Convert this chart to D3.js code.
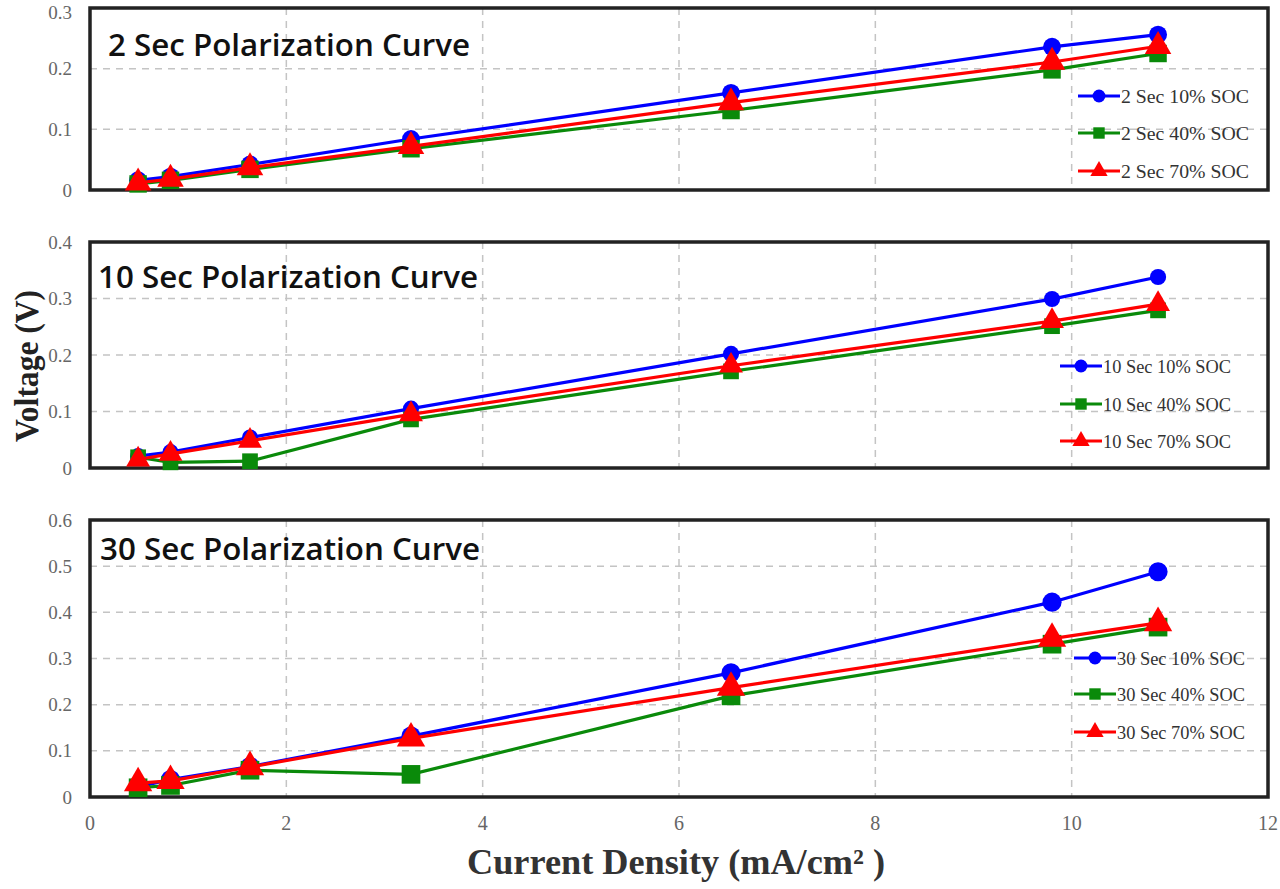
<!DOCTYPE html>
<html>
<head>
<meta charset="utf-8">
<script src="https://cdn.jsdelivr.net/npm/d3@7"></script>
<style>
  body { margin: 0; background: #fff; }
  svg { display: block; }
</style>
</head>
<body>
<svg id="chart" width="1280" height="889"></svg>
<script>
// current density at each measurement (mA/cm2)
const currentDensity = [0.49, 0.82, 1.63, 3.27, 6.53, 9.80, 10.88];
const xTicks = [0, 2, 4, 6, 8, 10, 12];

const pulseTimes = ["2 Sec", "10 Sec", "30 Sec"];
const socLevels = ["10% SOC", "40% SOC", "70% SOC"];
const yMaxes = [0.3, 0.4, 0.6];

// voltage (V)
const v2s10 = [0.016, 0.022, 0.042, 0.084, 0.160, 0.236, 0.256];
const v2s40 = [0.010, 0.016, 0.034, 0.068, 0.131, 0.198, 0.225];
const v2s70 = [0.012, 0.018, 0.037, 0.072, 0.144, 0.211, 0.237];

const v10s10 = [0.021, 0.028, 0.054, 0.105, 0.202, 0.299, 0.338];
const v10s40 = [0.019, 0.010, 0.012, 0.086, 0.171, 0.251, 0.279];
const v10s70 = [0.015, 0.025, 0.048, 0.095, 0.181, 0.260, 0.290];

const v30s10 = [0.022, 0.038, 0.066, 0.132, 0.269, 0.422, 0.488];
const v30s40 = [0.020, 0.025, 0.058, 0.049, 0.219, 0.331, 0.368];
const v30s70 = [0.030, 0.035, 0.065, 0.127, 0.237, 0.343, 0.377];

const voltages = [
    [v2s10, v2s40, v2s70],
    [v10s10, v10s40, v10s70],
    [v30s10, v30s40, v30s70]
];

const colors = ["#0000ff", "#0a8a0a", "#ff0000"];
const symbols = [d3.symbolCircle, d3.symbolSquare, d3.symbolTriangle];

const svg = d3.select("#chart");
const left = 90, right = 1268;

// panel placement (top, bottom), legend placement
const panelBox = [[8, 190], [242, 468], [520, 797]];
const legendX = [1078, 1060, 1074];
const legendY = [[96, 133, 171], [366, 404, 441], [658, 694, 732]];
const titleX = [108, 98, 100];
const titleY = [56, 288, 560];
const titleW = [362, 380, 380];
const markerScale = [1.05, 0.85, 1.2];

const x = d3.scaleLinear().domain([0, 12]).range([left, right]);

panelBox.forEach(([top, bottom], p) => {
    const y = d3.scaleLinear().domain([0, yMaxes[p]]).range([bottom, top]);
    const g = svg.append("g");
    const yTicks = d3.range(0, yMaxes[p] + 0.001, 0.1);

    // gridlines
    g.selectAll(".vgrid")
        .data(xTicks.slice(1, -1))
        .enter()
        .append("line")
        .attr("x1", d => x(d)).attr("x2", d => x(d))
        .attr("y1", top).attr("y2", bottom)
        .style("stroke", "#c4c4c4")
        .style("stroke-width", 1.5)
        .style("stroke-dasharray", "7,6");
    g.selectAll(".hgrid")
        .data(yTicks.slice(1, -1))
        .enter()
        .append("line")
        .attr("x1", left).attr("x2", right)
        .attr("y1", d => y(d)).attr("y2", d => y(d))
        .style("stroke", "#c4c4c4")
        .style("stroke-width", 1.5)
        .style("stroke-dasharray", "7,6");

    // y tick labels (top one kept inside the page)
    g.selectAll(".ytick")
        .data(yTicks)
        .enter()
        .append("text")
        .attr("x", left - 18)
        .attr("y", d => Math.max(y(d), 12))
        .attr("dy", "0.35em")
        .attr("text-anchor", "end")
        .style("font-family", "'Liberation Serif', serif")
        .style("font-size", "19px")
        .style("fill", "#666")
        .text(d => d === 0 ? "0" : d3.format(".1f")(d));

    // frame
    g.append("rect")
        .attr("x", left).attr("y", top)
        .attr("width", right - left).attr("height", bottom - top)
        .style("fill", "none")
        .style("stroke", "#222")
        .style("stroke-width", 3.5);

    // title
    g.append("text")
        .attr("x", titleX[p])
        .attr("y", titleY[p])
        .attr("textLength", titleW[p])
        .attr("lengthAdjust", "spacingAndGlyphs")
        .style("font-family", "'Open Sans', sans-serif")
        .style("font-size", "30px")
        .style("font-weight", 600)
        .style("fill", "#111")
        .text(`${pulseTimes[p]} Polarization Curve`);

    const line = d3.line()
        .x((d, i) => x(currentDensity[i]))
        .y(d => y(d));

    voltages[p].forEach((vals, s) => {
        g.append("path")
            .datum(vals)
            .attr("d", line)
            .style("fill", "none")
            .style("stroke", colors[s])
            .style("stroke-width", 3.2);

        const size = [240, 290, 290][s] * markerScale[p];
        g.selectAll(`.pt${s}`)
            .data(vals)
            .enter()
            .append("path")
            .attr("transform", (d, i) => `translate(${x(currentDensity[i])},${y(d)})`)
            .attr("d", d3.symbol().type(symbols[s]).size(size))
            .style("fill", colors[s]);
    });

    // legend
    socLevels.forEach((soc, s) => {
        const ly = legendY[p][s];
        const lx = legendX[p];
        g.append("line")
            .attr("x1", lx).attr("x2", lx + 42)
            .attr("y1", ly).attr("y2", ly)
            .style("stroke", colors[s])
            .style("stroke-width", 3.2);
        g.append("path")
            .attr("transform", `translate(${lx + 21},${ly})`)
            .attr("d", d3.symbol().type(symbols[s]).size(130))
            .style("fill", colors[s]);
        g.append("text")
            .attr("x", lx + 43)
            .attr("y", ly)
            .attr("dy", "0.35em")
            .attr("textLength", 128)
            .attr("lengthAdjust", "spacingAndGlyphs")
            .style("font-family", "'Liberation Serif', serif")
            .style("font-size", "19px")
            .style("fill", "#333")
            .text(`${pulseTimes[p]} ${soc}`);
    });
});

// x tick labels under the last panel
svg.selectAll(".xtick")
    .data(xTicks)
    .enter()
    .append("text")
    .attr("x", d => x(d))
    .attr("y", 823)
    .attr("dy", "0.35em")
    .attr("text-anchor", "middle")
    .style("font-family", "'Liberation Serif', serif")
    .style("font-size", "20px")
    .style("fill", "#666")
    .text(d => d);

// axis titles
svg.append("text")
    .attr("x", 676)
    .attr("y", 874)
    .attr("text-anchor", "middle")
    .attr("textLength", 418)
    .attr("lengthAdjust", "spacingAndGlyphs")
    .style("font-family", "'Liberation Serif', serif")
    .style("font-size", "35px")
    .style("font-weight", "bold")
    .style("fill", "#333")
    .text("Current Density (mA/cm² )");

svg.append("text")
    .attr("transform", "translate(38,366) rotate(-90)")
    .attr("text-anchor", "middle")
    .attr("textLength", 152)
    .attr("lengthAdjust", "spacingAndGlyphs")
    .style("font-family", "'Liberation Serif', serif")
    .style("font-size", "33px")
    .style("font-weight", "bold")
    .style("fill", "#222")
    .text("Voltage (V)");
</script>
</body>
</html>
